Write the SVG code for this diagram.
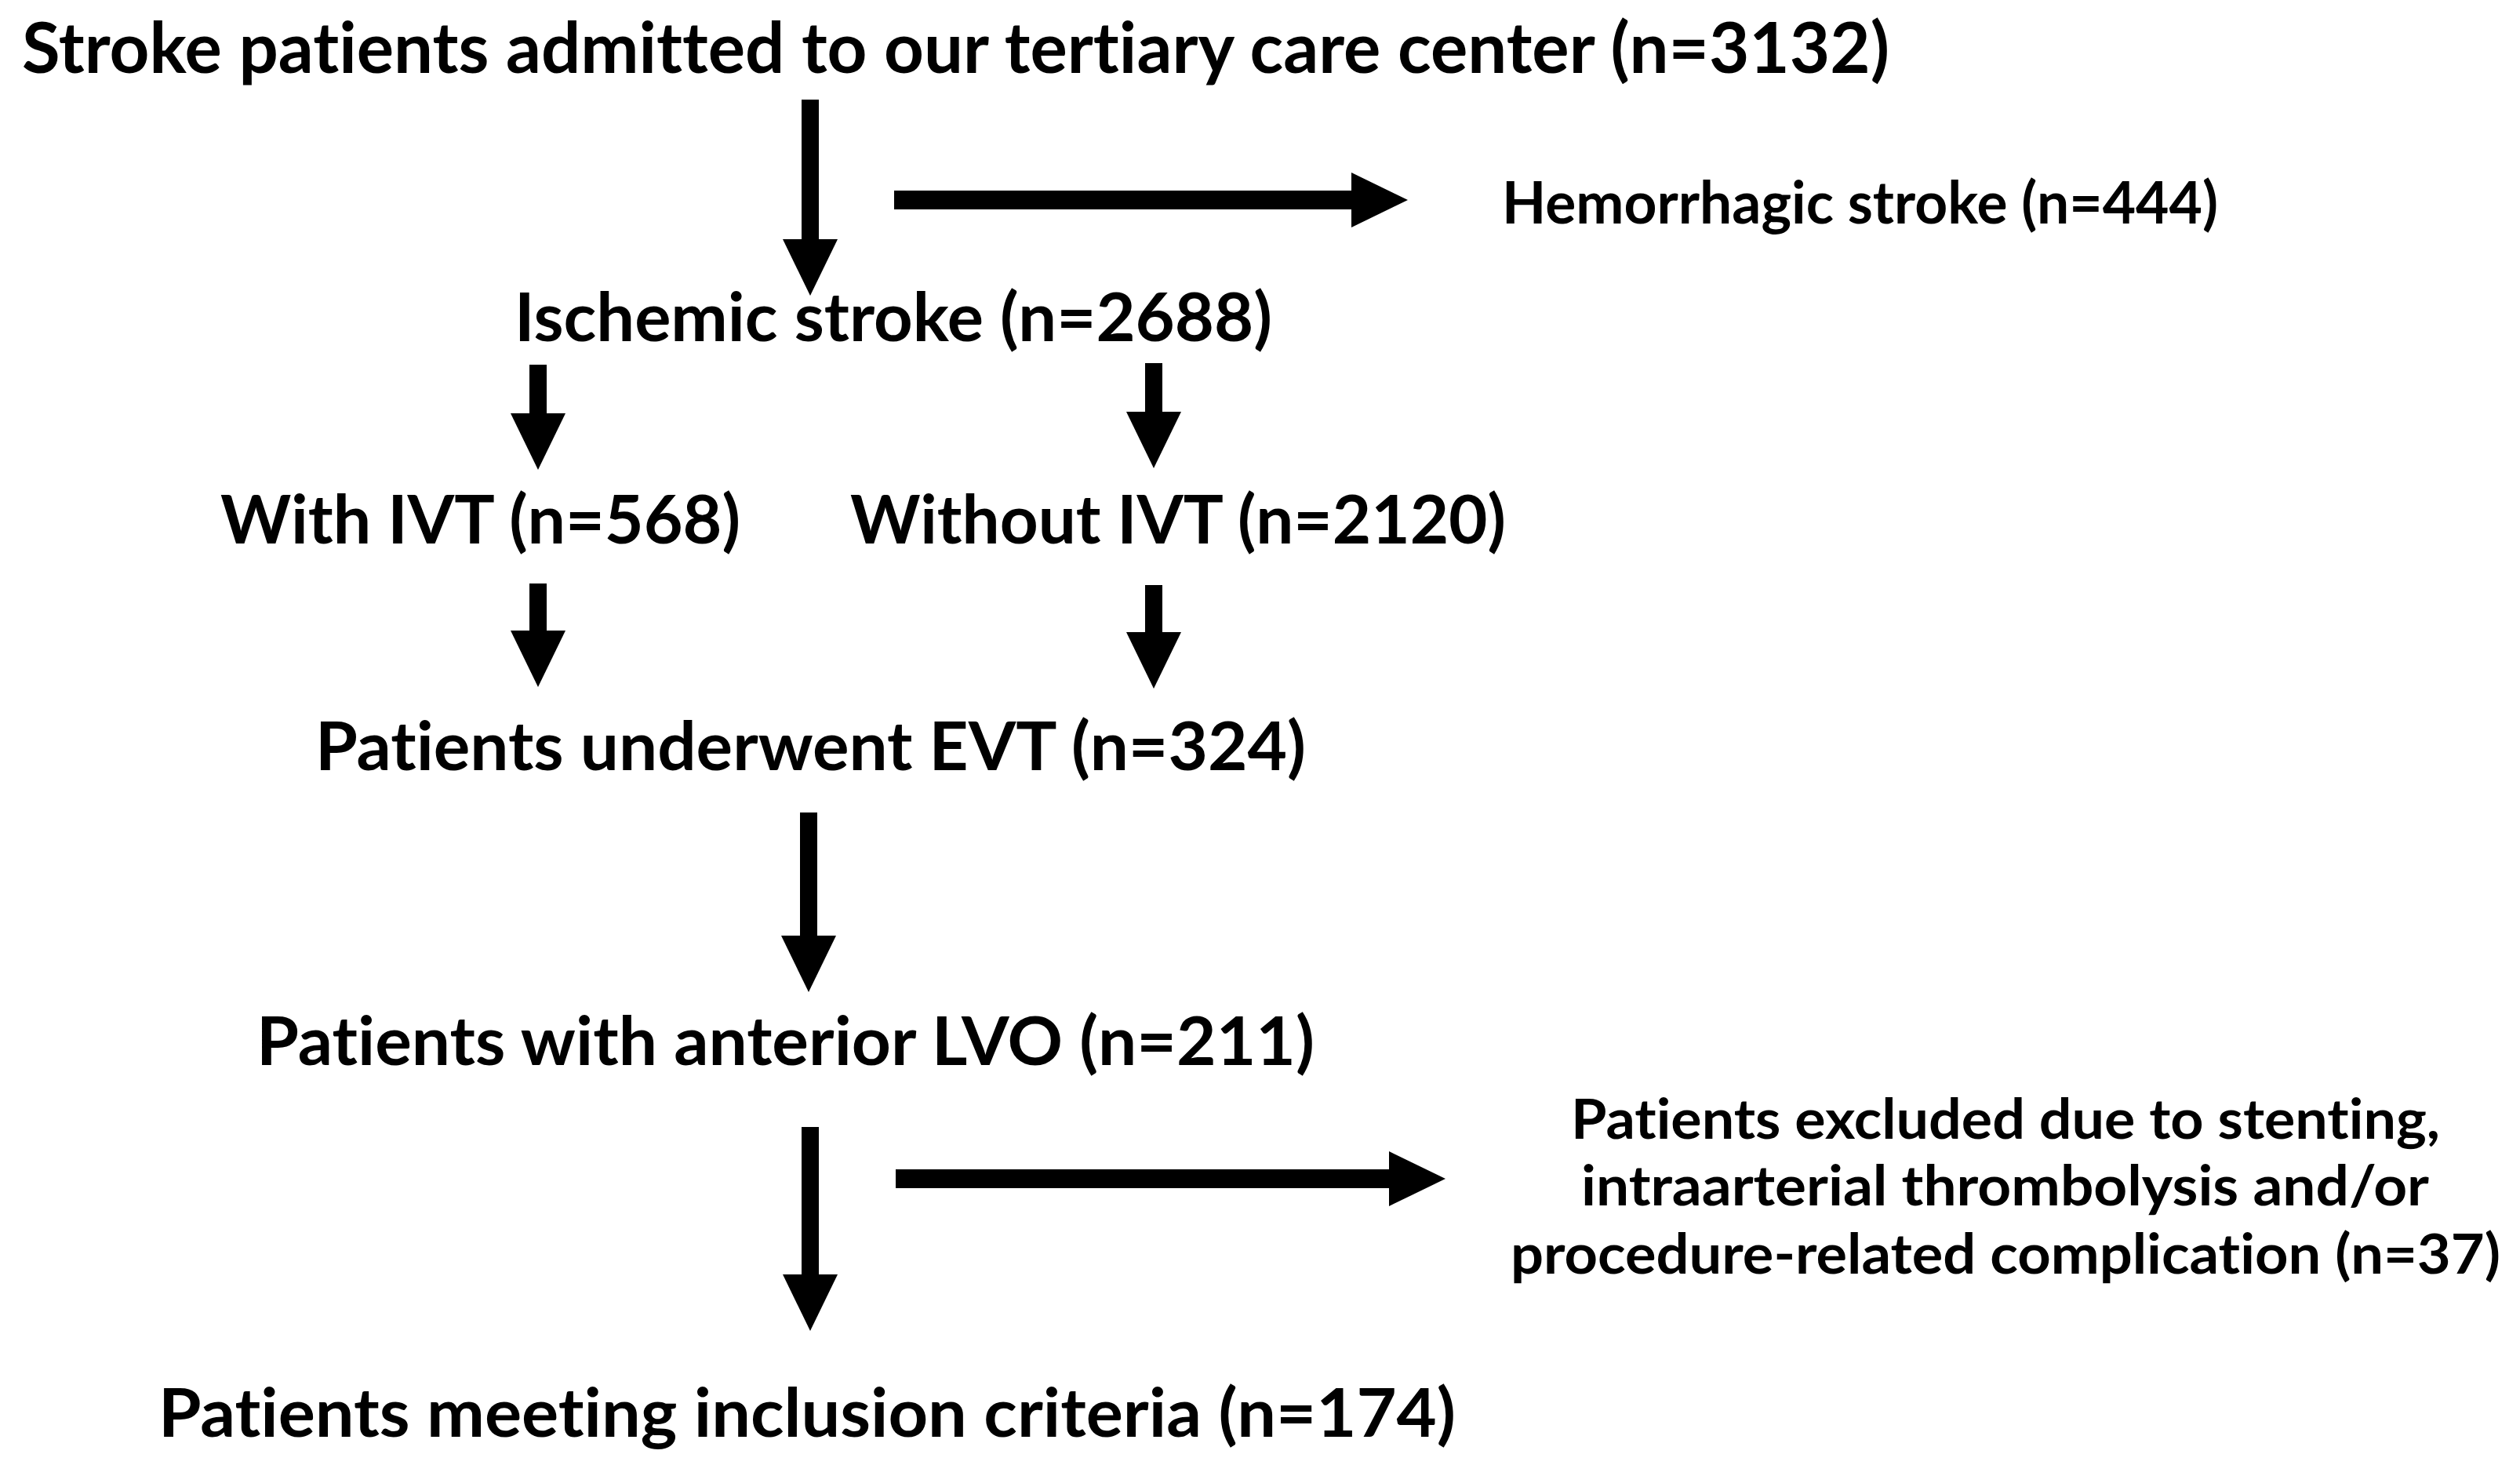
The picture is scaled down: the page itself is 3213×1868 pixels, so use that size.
<svg xmlns="http://www.w3.org/2000/svg" width="3213" height="1868" viewBox="0 0 3213 1868">
<defs>
<style>
text{font-family:"Lato","Liberation Sans",sans-serif;font-weight:bold;fill:#000;font-variant-ligatures:none}
.main{font-size:87px}
.title{font-size:90px}
.side{font-size:74px}
.exc{font-size:70px}
.arr{stroke:#000;stroke-width:22;fill:none;stroke-linecap:butt}
.arrh{stroke:#000;stroke-width:24;fill:none;stroke-linecap:butt}
</style>
<marker id="head" markerUnits="userSpaceOnUse" viewBox="0 0 72 70" markerWidth="72" markerHeight="70" refX="1" refY="35" orient="auto">
<polygon points="0,0 72,35 0,70" fill="#000"/>
</marker>
</defs>
<rect width="3213" height="1868" fill="#fff"/>
<g id="connectors">
<line class="arr" x1="1033" y1="127" x2="1033" y2="306" marker-end="url(#head)"/>
<line class="arrh" x1="1140" y1="255" x2="1724" y2="255" marker-end="url(#head)"/>
<line class="arr" x1="686" y1="465" x2="686" y2="528" marker-end="url(#head)"/>
<line class="arr" x1="1471" y1="463" x2="1471" y2="526" marker-end="url(#head)"/>
<line class="arr" x1="686" y1="744" x2="686" y2="805" marker-end="url(#head)"/>
<line class="arr" x1="1471" y1="746" x2="1471" y2="807" marker-end="url(#head)"/>
<line class="arr" x1="1031" y1="1036" x2="1031" y2="1194" marker-end="url(#head)"/>
<line class="arr" x1="1033" y1="1437" x2="1033" y2="1626" marker-end="url(#head)"/>
<line class="arrh" x1="1142" y1="1503" x2="1772" y2="1503" marker-end="url(#head)"/>
</g>
<g id="n-admitted"><text class="title" x="28" y="93" textLength="2381" lengthAdjust="spacingAndGlyphs">Stroke patients admitted to our tertiary care center (n=3132)</text></g>
<g id="n-hemorrhagic"><text class="side" x="1915" y="285" textLength="913" lengthAdjust="spacingAndGlyphs">Hemorrhagic stroke (n=444)</text></g>
<g id="n-ischemic"><text class="main" x="656" y="435" textLength="966" lengthAdjust="spacingAndGlyphs">Ischemic stroke (n=2688)</text></g>
<g id="n-with-ivt"><text class="main" x="281" y="693" textLength="663" lengthAdjust="spacingAndGlyphs">With IVT (n=568)</text></g>
<g id="n-without-ivt"><text class="main" x="1084" y="693" textLength="836" lengthAdjust="spacingAndGlyphs">Without IVT (n=2120)</text></g>
<g id="n-evt"><text class="main" x="402" y="982" textLength="1263" lengthAdjust="spacingAndGlyphs">Patients underwent EVT (n=324)</text></g>
<g id="n-lvo"><text class="main" x="327" y="1358" textLength="1349" lengthAdjust="spacingAndGlyphs">Patients with anterior LVO (n=211)</text></g>
<g id="n-excluded">
<text class="exc" x="2003" y="1452" textLength="1108" lengthAdjust="spacingAndGlyphs">Patients excluded due to stenting,</text>
<text class="exc" x="2016" y="1537" textLength="1081" lengthAdjust="spacingAndGlyphs">intraarterial thrombolysis and/or</text>
<text class="exc" x="1926" y="1624" textLength="1262" lengthAdjust="spacingAndGlyphs">procedure-related complication (n=37)</text>
</g>
<g id="n-included"><text class="main" x="202" y="1832" textLength="1654" lengthAdjust="spacingAndGlyphs">Patients meeting inclusion criteria (n=174)</text></g>
</svg>
